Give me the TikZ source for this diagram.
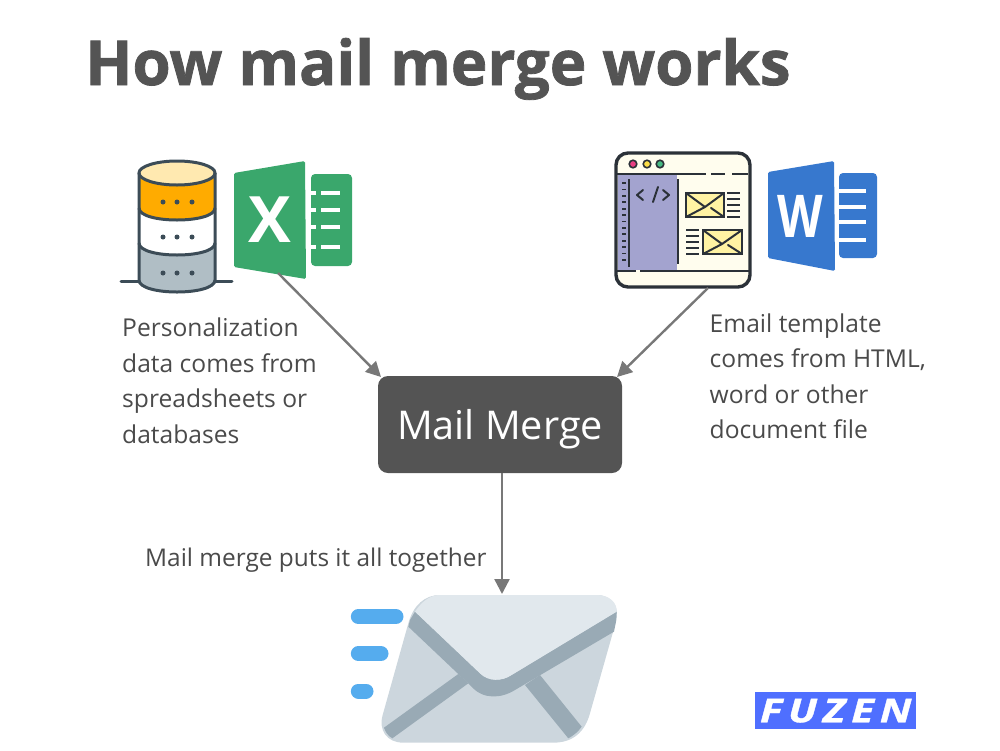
\documentclass[tikz,border=0pt]{standalone}
\usepackage{fontspec}
\setmainfont{Open Sans}
\usetikzlibrary{arrows.meta}
\definecolor{txt}{HTML}{4A4A4A}
\definecolor{ttl}{HTML}{545454}
\definecolor{arr}{HTML}{787878}
\definecolor{dbline}{HTML}{3C4C57}
\definecolor{dborange}{HTML}{FFAB00}
\definecolor{dbgrey}{HTML}{B0BEC5}
\definecolor{dbtop}{HTML}{FFE9B0}
\definecolor{xlgreen}{HTML}{3AA76C}
\definecolor{wdblue}{HTML}{3778CE}
\definecolor{winline}{HTML}{2B3138}
\definecolor{winfill}{HTML}{FFFDEE}
\definecolor{purple1}{HTML}{A3A3CF}
\definecolor{envy}{HTML}{FFF3A3}
\definecolor{dotred}{HTML}{E83E82}
\definecolor{dotyellow}{HTML}{FADC46}
\definecolor{dotgreen}{HTML}{46B982}
\definecolor{envbody}{HTML}{CCD6DD}
\definecolor{envflap}{HTML}{E1E8ED}
\definecolor{envband}{HTML}{99AAB5}
\definecolor{pill}{HTML}{55ACEE}
\definecolor{fuzen}{HTML}{4F6FFF}
\tikzset{
  x=1pt,y=-1pt,
  lbl/.style={font=\fontsize{24.6}{35.4}\selectfont,text=txt,align=left,anchor=north west,inner sep=0pt},
  connector/.style={draw=arr,line width=2.4pt,-{Triangle[width=15pt,length=15pt]}},
  dbstroke/.style={draw=dbline,line width=3pt},
  winstroke/.style={draw=winline,line width=2pt},
  envelopebox/.style={draw=winline,line width=2pt,fill=envy},
  dbdot/.style={fill=dbline},
  windot/.style={draw=winline,line width=1.6pt},
  pillbar/.style={draw=pill,line width=15pt,line cap=round},
}
\begin{document}
\begin{tikzpicture}
\useasboundingbox (0,0) rectangle (1000,750);
% title
\node[anchor=base west,inner sep=0pt,text=ttl,font=\fontsize{61.8}{70}\bfseries\selectfont] (title) at (85,85) {\addfontfeature{FakeBold=1.3}How mail merge works};
% anchors for connectors
\coordinate (excelfoot) at (278,273);
\coordinate (winfoot) at (708,288);
\coordinate (tipL) at (381,377);
\coordinate (tipR) at (617,377);
\coordinate (envtop) at (502,594);
% database icon
\fill[white] (139,173) rectangle (215,280);
\fill[dbgrey] (139,243) .. controls (139,259) and (215,259) .. (215,243) -- (215,280) .. controls (215,296) and (139,296) .. (139,280) -- cycle;
\fill[dborange] (139,173) -- (215,173) -- (215,208) .. controls (215,224) and (139,224) .. (139,208) -- cycle;
\draw[dbstroke,fill=dbtop] (177,173) ellipse[x radius=38,y radius=12];
\draw[dbstroke] (139,173) -- (139,280) .. controls (139,296) and (215,296) .. (215,280) -- (215,173);
\draw[dbstroke] (139,208) .. controls (139,224) and (215,224) .. (215,208);
\draw[dbstroke] (139,243) .. controls (139,259) and (215,259) .. (215,243);
\draw[dbstroke,line cap=round] (121,281) -- (139,281) (215,281) -- (232,281);
\foreach \yy in {202,237,273}{\foreach \xx in {163,177,192}{\fill[dbdot] (\xx,\yy) circle[radius=2.5];}}
% excel icon
\fill[xlgreen,rounded corners=1.5pt] (234,173) -- (305,161) -- (306,279) -- (234,267) -- cycle;
\fill[xlgreen,rounded corners=4pt] (311,174) -- (352,174) -- (352,266) -- (311,266) -- cycle;
\foreach \yy in {193,210,227,247}{\fill[white] (321,\yy-2) rectangle (340,\yy+2); \fill[white] (311,\yy-2) rectangle (316,\yy+2);}
\node[text=white,inner sep=0pt,font=\fontsize{64}{64}\bfseries\selectfont] (xletter) at (270,220) {X};
% window icon
\draw[draw=winline,line width=3.4pt,fill=winfill,rounded corners=12pt] (616,153) rectangle (750,287);
\fill[purple1] (618,174) rectangle (677,271);
\fill[winfill] (636,270) rectangle (640,272);
\fill[dotred,windot] (633,164) circle[radius=3.8];
\fill[dotyellow,windot] (647,164) circle[radius=3.8];
\fill[dotgreen,windot] (660,164) circle[radius=3.8];
\draw[winstroke] (617,173.5) -- (706,173.5) (711,173.5) -- (725,173.5) (732,173.5) -- (748,173.5);
\draw[winstroke] (617,271) -- (636,271) (640,271) -- (749,271);
\draw[winstroke] (629,179) -- (629,267) (678,179) -- (678,264);
\foreach \yy in {183,189.4,195.8,202.2,208.6,215,221.4,227.8,234.2,240.6,247,253.4,259.8}{\draw[winstroke,line width=1.8pt] (622,\yy) -- (626,\yy);}
\draw[winstroke,line cap=round,line join=round] (643,190) -- (637,195) -- (643,200) (663,190) -- (669,195) -- (663,200) (653,202) -- (658,187);
\draw[envelopebox] (686,193) rectangle (724,217);
\draw[winstroke,line cap=round] (686,193) -- (705,207) -- (724,193) (686,217) -- (705,207) (711,208) -- (724,217);
\draw[envelopebox] (703,230) rectangle (742,254);
\draw[winstroke,line cap=round] (703,230) -- (722,244) -- (742,230) (703,254) -- (722,244) (728,245) -- (742,254);
\foreach \yy in {193,199,205,211,217}{\draw[winstroke] (727,\yy) -- (740,\yy);}
\foreach \yy in {230,236,242,248,254}{\draw[winstroke] (686,\yy) -- (699,\yy);}
% word icon
\fill[wdblue,rounded corners=1.5pt] (768,172) -- (834,161) -- (835,271) -- (768,258) -- cycle;
\fill[wdblue,rounded corners=4pt] (839,173) -- (877,173) -- (877,258) -- (839,258) -- cycle;
\foreach \yy in {191,207,222,240}{\fill[white] (839,\yy-2) rectangle (866,\yy+2);}
\node[text=white,inner sep=0pt,xscale=.8,font=\fontsize{59}{59}\bfseries\selectfont] (wletter) at (800.5,216) {W};
% labels
\node[lbl] (leftlabel) at (122,318) {Personalization\\data comes from\\spreadsheets or\\databases};
\node[lbl] (rightlabel) at (709.5,313.5) {Email template\\comes from HTML,\\word or other\\document file};
\node[anchor=base west,inner sep=0pt,text=txt,font=\fontsize{24.4}{30}\selectfont] (midlabel) at (145,566) {Mail merge puts it all together};
% mail merge box
\node[fill=ttl,rounded corners=10pt,minimum width=244pt,minimum height=97pt,inner sep=0pt] (mergebox) at (500,424.5) {};
\node[anchor=base,inner sep=0pt,text=white,font=\fontsize{39.6}{45}\selectfont] (mergetext) at (500,439.5) {Mail Merge};
% connectors
\draw[connector] (excelfoot) -- (tipL);
\draw[connector] (winfoot) -- (tipR);
\draw[connector] (mergebox.south -| envtop) -- (envtop);
% envelope
\begin{scope}[shift={(340,580)},x=0.3333pt,y=-0.3333pt]
\fill[envbody] (300,45) -- (770,45) .. controls (815,45) and (840,80) .. (828,125) -- (750,400) .. controls (735,455) and (700,488) .. (640,488) -- (190,488) .. controls (140,488) and (115,450) .. (128,405) -- (205,130) .. controls (220,75) and (255,45) .. (300,45) -- cycle;
\fill[envband] (132,443) -- (355,282) -- (385,310) -- (157,475) .. controls (145,468) and (137,458) .. (132,443) -- cycle;
\fill[envband] (555,315) -- (600,285) -- (725,440) .. controls (715,455) and (700,467) .. (685,475) -- cycle;
\fill[envband] (225,95) -- (420,280) .. controls (445,305) and (485,305) .. (515,285) -- (830,95) -- (828,125) -- (822,155) -- (525,330) .. controls (485,355) and (430,360) .. (395,320) -- (205,140) -- (210,120) -- cycle;
\fill[envflap] (300,45) -- (770,45) .. controls (810,45) and (832,70) .. (830,95) -- (515,285) .. controls (485,305) and (445,305) .. (420,280) -- (225,95) .. controls (245,65) and (270,45) .. (300,45) -- cycle;
\draw[pillbar] (55,110) -- (168,110);
\draw[pillbar] (55,221) -- (123,221);
\draw[pillbar] (55,333) -- (78,333);
\end{scope}
% logo
\node[fill=fuzen,anchor=north west,minimum width=161pt,minimum height=37pt,inner sep=0pt] (logo) at (755,692) {};
\node[text=white,inner sep=0pt,xscale=1.27,font=\fontsize{33}{33}\bfseries\itshape\selectfont] (logotext) at (logo.center) {\addfontfeature{LetterSpace=14,FakeBold=1}FUZEN};
\end{tikzpicture}
\end{document}
